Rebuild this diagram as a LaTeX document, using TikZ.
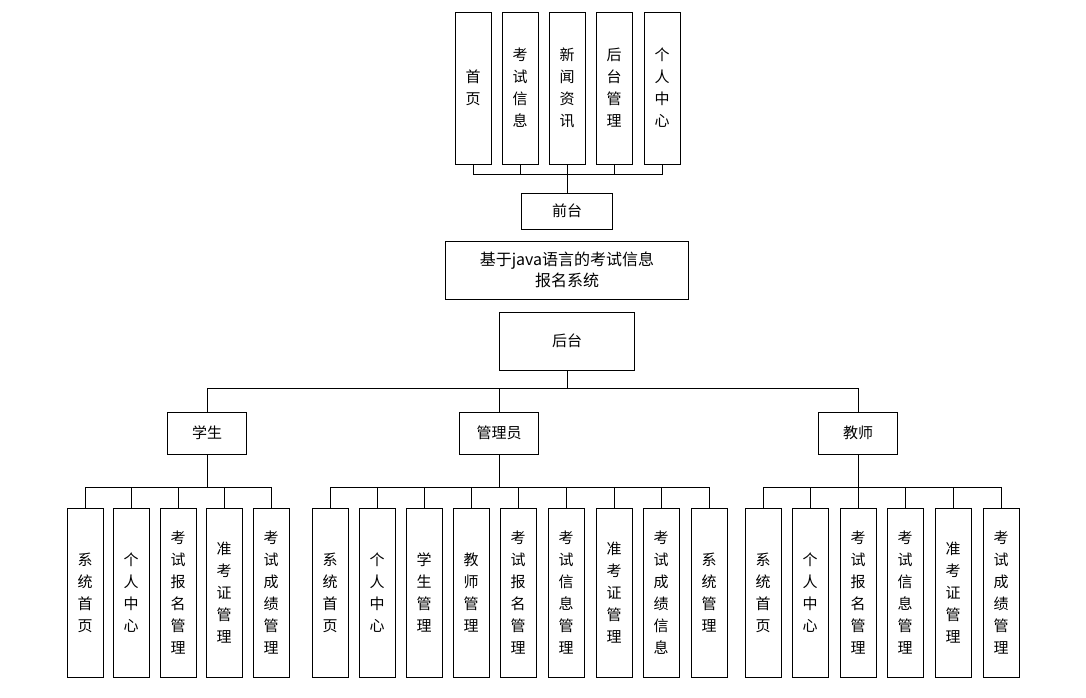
\documentclass[tikz,border=0pt]{standalone}
\usepackage{fontspec}
\setmainfont{Noto Sans CJK SC}
\begin{document}
\begin{tikzpicture}[x=1pt,y=-1pt,
  vbox/.style={draw,line width=0.8pt,minimum width=36pt,align=center,font=\fontsize{15}{22}\selectfont,inner sep=0pt},
  hbox/.style={draw,line width=0.8pt,align=center,font=\fontsize{15}{20}\selectfont,inner sep=0pt},
  ln/.style={line width=0.8pt}]
\useasboundingbox (0,0) rectangle (1086,698);
% top
\foreach \n/\x/\t in {t1/473/首\\页, t2/520/考\\试\\信\\息, t3/567/新\\闻\\资\\讯, t4/614/后\\台\\管\\理, t5/662/个\\人\\中\\心}
  \node[vbox,minimum height=152pt] (\n) at (\x,88) {\t};
\node[hbox,minimum width=91pt,minimum height=36pt] (qt) at (567,211) {前台};
\node[hbox,minimum width=243pt,minimum height=58pt,font=\fontsize{16}{21}\selectfont] (main) at (567,270) {基于java语言的考试信息\\报名系统};
\node[hbox,minimum width=135pt,minimum height=58pt] (ht) at (567,341) {后台};
\coordinate (tb) at (567,174);
\foreach \n in {t1,t2,t3,t4,t5} \draw[ln] (\n.south) |- (tb);
\draw[ln] (tb) -- (qt.north);
% roles
\node[hbox,minimum width=79pt,minimum height=42pt] (xs) at (207,433) {学生};
\node[hbox,minimum width=79pt,minimum height=42pt] (gl) at (499,433) {管理员};
\node[hbox,minimum width=79pt,minimum height=42pt] (js) at (858,433) {教师};
\coordinate (hb) at (567,388);
\draw[ln] (ht.south) -- (hb);
\foreach \n in {xs,gl,js} \draw[ln] (hb) -| (\n.north);
% children
\foreach \n/\x/\t in {s1/85/系\\统\\首\\页, s2/131/个\\人\\中\\心, s3/178/考\\试\\报\\名\\管\\理, s4/224/准\\考\\证\\管\\理, s5/271/考\\试\\成\\绩\\管\\理}
  {\node[vbox,minimum height=169pt] (\n) at (\x,592.5) {\t};
   \draw[ln] (xs.south) -- (207,487) -| (\n.north);}
\foreach \n/\x/\t in {a1/330/系\\统\\首\\页, a2/377/个\\人\\中\\心, a3/424/学\\生\\管\\理, a4/471/教\\师\\管\\理, a5/518/考\\试\\报\\名\\管\\理, a6/566/考\\试\\信\\息\\管\\理, a7/614/准\\考\\证\\管\\理, a8/661/考\\试\\成\\绩\\信\\息, a9/709/系\\统\\管\\理}
  {\node[vbox,minimum height=169pt] (\n) at (\x,592.5) {\t};
   \draw[ln] (gl.south) -- (499,487) -| (\n.north);}
\foreach \n/\x/\t in {e1/763/系\\统\\首\\页, e2/810/个\\人\\中\\心, e3/858/考\\试\\报\\名\\管\\理, e4/905/考\\试\\信\\息\\管\\理, e5/953/准\\考\\证\\管\\理, e6/1001/考\\试\\成\\绩\\管\\理}
  {\node[vbox,minimum height=169pt] (\n) at (\x,592.5) {\t};
   \draw[ln] (js.south) -- (858,487) -| (\n.north);}
\end{tikzpicture}
\end{document}
